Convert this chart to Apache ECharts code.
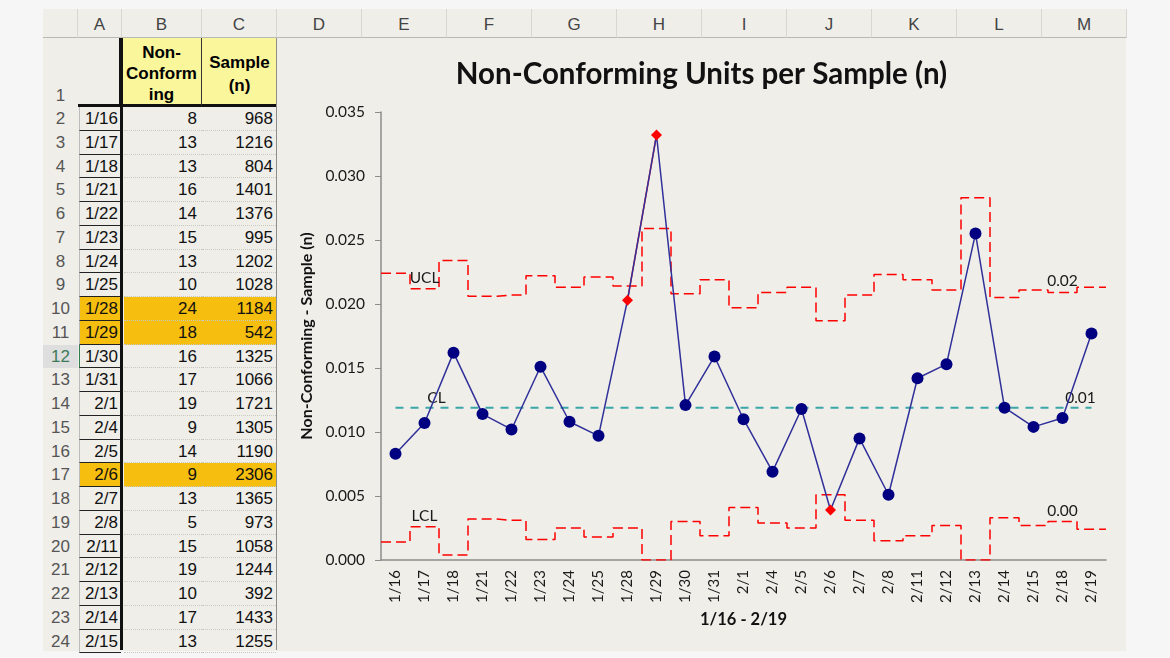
<!DOCTYPE html>
<html>
<head>
<meta charset="utf-8">
<script src="https://cdn.jsdelivr.net/npm/echarts@6/dist/echarts.min.js"></script>
<style>
  html, body { margin: 0; padding: 0; background: #f6f6f6; }
  body { width: 1170px; height: 658px; position: relative; overflow: hidden;
         font-family: "Liberation Sans", Arial, sans-serif; }
  .abs { position: absolute; box-sizing: border-box; }
  #sheet { left: 43px; top: 9px; width: 1083px; height: 642px; background: #efeee9; }
  .colhead { top: 9px; height: 29px; color: #444; font-size: 17px; text-align: center;
             line-height: 31px; border-right: 1px solid #d8d8d3; }
  .rowhead { left: 43px; width: 35px; color: #555; font-size: 17px; text-align: center; }
  .cell { font-size: 17px; color: #111; text-align: right; padding-right: 3px;
          border-bottom: 1px dotted #c9c9c4; }
  .hot { background: #f6be0e; }
  #chart { left: 277px; top: 38px; width: 849px; height: 612px; }
</style>
</head>
<body>
<div id="sheet" class="abs"></div>
<div id="grid"></div>
<div id="chart" class="abs"></div>
<script>
// 表格数据
var tableDates = ['1/16','1/17','1/18','1/21','1/22','1/23','1/24','1/25','1/28','1/29','1/30','1/31',
                  '2/1','2/4','2/5','2/6','2/7','2/8','2/11','2/12','2/13','2/14','2/15'];
var nonConforming = [8,13,13,16,14,15,13,10,24,18,16,17,19,9,14,9,13,5,15,19,10,17,13];
var sampleSize = [968,1216,804,1401,1376,995,1202,1028,1184,542,1325,1066,1721,1305,1190,2306,1365,973,1058,1244,392,1433,1255];
var highlightRows = [10, 11, 17];
var columnLetters = ['A','B','C','D','E','F','G','H','I','J','K','L','M'];

// 图表数据
var categories = ['1/16','1/17','1/18','1/21','1/22','1/23','1/24','1/25','1/28','1/29','1/30','1/31','2/1',
                  '2/4','2/5','2/6','2/7','2/8','2/11','2/12','2/13','2/14','2/15','2/18','2/19'];
var pValues = [0.0083,0.0107,0.0162,0.0114,0.0102,0.0151,0.0108,0.0097,0.0203,0.0332,0.0121,0.0159,0.0110,
               0.0069,0.0118,0.0039,0.0095,0.0051,0.0142,0.0153,0.0255,0.0119,0.0104,0.0111,0.0177];
var uclValues = [0.0224,0.0212,0.0234,0.0206,0.0207,0.0222,0.0213,0.0221,0.0214,0.0259,0.0208,0.0219,0.0197,
                 0.0209,0.0213,0.0187,0.0207,0.0223,0.0219,0.0211,0.0283,0.0205,0.0211,0.0209,0.0213];
var lclValues = [0.0014,0.0026,0.0004,0.0032,0.0031,0.0016,0.0025,0.0018,0.0025,0.0000,0.0030,0.0019,0.0041,
                 0.0029,0.0025,0.0051,0.0031,0.0015,0.0019,0.0027,0.0000,0.0033,0.0027,0.0030,0.0024];
var clValue = 0.0119;
var outOfControl = [8, 9, 15];
var yTicks = [0, 0.035, 0.005]; // min, max, interval

// ---- 画表格 ----
var root = document.getElementById('grid');
function box(cls, x, y, w, h, html, style) {
    var d = document.createElement('div');
    d.className = 'abs ' + cls;
    d.style.left = x + 'px'; d.style.top = y + 'px';
    d.style.width = w + 'px'; d.style.height = h + 'px';
    if (style) d.style.cssText += style;
    if (html !== undefined) d.innerHTML = html;
    root.appendChild(d);
    return d;
}
var colX = [78, 122, 202, 277];
for (var c = 4; c <= 13; c++) colX.push(277 + 85 * (c - 3));
// 列标题
box('', 43, 9, 35, 29, '', 'background:#efeee9;border-right:1px solid #d8d8d3;border-bottom:1px solid #b9b9b4');
for (var i = 0; i < columnLetters.length; i++) {
    box('colhead', colX[i], 9, colX[i + 1] - colX[i], 29, columnLetters[i], 'border-bottom:1px solid #b9b9b4');
}
// 第1行
var rowTop = 38, row1H = 69, rowH = 23.75;
box('rowhead', 43, rowTop, 35, row1H, '1', 'line-height:' + (row1H * 2 - 22) + 'px');
box('', 78, rowTop, 44, row1H, '', 'border-bottom:3px solid #111;border-right:3px solid #111');
box('', 122, rowTop, 80, row1H, '<div style="padding-top:4px;line-height:21px">Non-<br>Conform<br>ing</div>',
    'background:#faf69c;font-weight:bold;font-size:17px;text-align:center;border-bottom:3px solid #111;border-right:1px solid #333');
box('', 202, rowTop, 75, row1H, '<div style="padding-top:13px;line-height:23px">Sample<br>(n)</div>',
    'background:#faf69c;font-weight:bold;font-size:17px;text-align:center;border-bottom:3px solid #111');
// 数据行
for (var r = 0; r < tableDates.length; r++) {
    var y = rowTop + row1H + r * rowH;
    var rowNo = r + 2;
    var hot = highlightRows.indexOf(rowNo) >= 0 ? ' hot' : '';
    box('rowhead', 43, y, 35, rowH, rowNo, 'line-height:' + rowH + 'px' +
        (rowNo === 12 ? ';background:#dedede;color:#3d7a5a' : ''));
    box('cell' + hot, 79, y, 42, rowH, tableDates[r],
        'line-height:' + rowH + 'px;border-bottom:1.5px solid #222;border-left:1px solid ' + (rowNo === 12 ? '#2e7d4f' : '#bbb'));
    box('cell' + hot, 124, y, 78, rowH, nonConforming[r], 'line-height:' + rowH + 'px;padding-right:5px');
    box('cell' + hot, 202, y, 74, rowH, sampleSize[r], 'line-height:' + rowH + 'px');
}
// 粗竖线 A|B
box('', 120, rowTop, 3, 612, '', 'background:#111');
// 图表边框
box('', 276, rowTop, 1, 612, '', 'background:#8d8d8a');
box('', 1125, rowTop, 1, 612, '', 'background:#a5a5a2');

// ---- 画图表 ----
var chart = echarts.init(document.getElementById('chart'));
var fontFam = 'Lato, "Open Sans", sans-serif';

function stepData(values, labelAt) {
    var out = [];
    for (var i = 0; i < values.length; i++) {
        out.push([i, values[i]]);
        var mid = { value: [i + 0.5, values[i]] };
        if (labelAt[i] !== undefined) {
            mid.label = { show: true, position: 'top', distance: 3, formatter: labelAt[i] };
        }
        out.push(mid);
        out.push([i + 1, values[i]]);
    }
    return out;
}

var mainData = pValues.map(function (v, i) {
    if (outOfControl.indexOf(i) >= 0) {
        return { value: v, symbol: 'diamond', symbolSize: 11, itemStyle: { color: '#ff0000' } };
    }
    return v;
});
var redSeg = pValues.map(function (v, i) { return (i === 8 || i === 9) ? v : '-'; });
var clData = categories.map(function (c, i) {
    var d = { value: clValue };
    if (i === 1) d.label = { show: true, position: 'top', distance: 2, offset: [12, 0], formatter: 'CL' };
    if (i === 24) d.label = { show: true, position: 'top', distance: 2, offset: [-11, 0], formatter: '0.01' };
    return d;
});

var limitStyle = { color: '#ff0000', width: 1.5, type: [10, 5] };
var labelStyle = { color: '#1a1a1a', fontSize: 15.5, fontFamily: fontFam };

option = {
    backgroundColor: '#efeee9',
    animation: false,
    title: {
        text: 'Non-Conforming Units per Sample (n)',
        left: 'center', top: 16,
        textStyle: { fontFamily: fontFam, fontSize: 29.5, fontWeight: 'bold', color: '#111' }
    },
    grid: { left: 104, top: 74, width: 725, height: 448 },
    xAxis: [{
        type: 'category',
        data: categories,
        name: '1/16 - 2/19',
        nameLocation: 'middle',
        nameGap: 51,
        nameTextStyle: { fontFamily: fontFam, fontSize: 16.5, fontWeight: 'bold', color: '#111' },
        axisLine: { lineStyle: { color: '#8c8c8c', width: 1.5 } },
        axisTick: { length: 6, lineStyle: { color: '#8c8c8c' } },
        axisLabel: { rotate: 90, fontFamily: fontFam, fontSize: 15, color: '#1a1a1a', margin: 10, interval: 0 }
    }, {
        type: 'value', min: 0, max: categories.length, show: false
    }],
    yAxis: {
        type: 'value',
        min: yTicks[0], max: yTicks[1], interval: yTicks[2],
        name: 'Non-Conforming - Sample (n)',
        nameLocation: 'middle',
        nameGap: 62,
        nameTextStyle: { fontFamily: fontFam, fontSize: 16, fontWeight: 'bold', color: '#111' },
        axisLine: { show: true, lineStyle: { color: '#8c8c8c', width: 1.5 } },
        axisTick: { show: true, length: 6, lineStyle: { color: '#8c8c8c' } },
        splitLine: { show: false },
        axisLabel: {
            fontFamily: fontFam, fontSize: 15.5, color: '#1a1a1a', margin: 16,
            formatter: function (v) { return v.toFixed(3); }
        }
    },
    series: [{
        name: 'UCL', type: 'line', xAxisIndex: 1,
        data: stepData(uclValues, { 1: 'UCL', 23: '0.02' }),
        showSymbol: true, symbolSize: 0, lineStyle: limitStyle, label: labelStyle, z: 2
    }, {
        name: 'LCL', type: 'line', xAxisIndex: 1,
        data: stepData(lclValues, { 1: 'LCL', 23: '0.00' }),
        showSymbol: true, symbolSize: 0, lineStyle: limitStyle, label: labelStyle, z: 2
    }, {
        name: 'CL', type: 'line',
        data: clData,
        showSymbol: true, symbolSize: 0,
        lineStyle: { color: '#3aa6a8', width: 2, type: [8, 7] },
        label: labelStyle, z: 3
    }, {
        name: 'p', type: 'line',
        data: mainData,
        symbol: 'circle', symbolSize: 12,
        itemStyle: { color: '#000080' },
        lineStyle: { color: '#30309a', width: 1.5 },
        z: 5
    }, {
        name: 'p-red', type: 'line',
        data: redSeg,
        symbol: 'none',
        lineStyle: { color: '#ff2020', width: 1.5 },
        z: 4
    }]
};
chart.setOption(option);
</script>
</body>
</html>
